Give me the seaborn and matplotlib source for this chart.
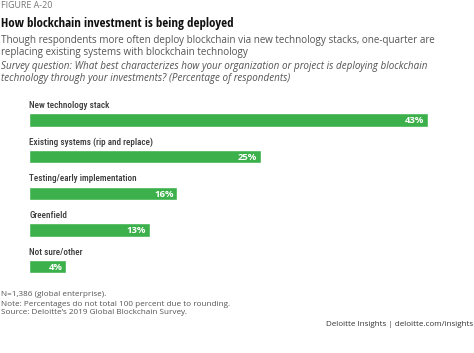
import matplotlib
matplotlib.use("Agg")
import matplotlib.pyplot as plt
import seaborn as sns
import pandas as pd
from matplotlib import font_manager
from matplotlib.font_manager import FontProperties

categories = ["New technology stack", "Existing systems (rip and replace)",
              "Testing/early implementation", "Greenfield", "Not sure/other"]
values = [43, 25, 16, 13, 4]
value_labels = ["43%", "25%", "16%", "13%", "4%"]

sns.set_theme(style="white")
plt.rcParams['font.family'] = ['Open Sans', 'DejaVu Sans']

def fp(fname_part, fallback_family="DejaVu Sans", weight="normal", style="normal"):
    for f in font_manager.fontManager.ttflist:
        if f.fname.split('/')[-1] == fname_part:
            return FontProperties(fname=f.fname)
    return FontProperties(family=fallback_family, weight=weight, style=style)

f_title = fp("OpenSans-CondBold.ttf", weight="bold")
f_label = fp("RobotoCondensed-Medium.ttf")
f_val = fp("OpenSans-Bold.ttf", weight="bold")
f_body = fp("OpenSans-Regular.ttf")
f_ital = fp("OpenSans-Italic.ttf", style="italic")

df = pd.DataFrame({"category": categories, "value": values})

fig = plt.figure(figsize=(4.74, 3.53), dpi=100)
ax = fig.add_axes([29/474, 1-285/353, 399/474, (285-101.7)/353])
sns.barplot(data=df, x="value", y="category", color="#3cb04a", width=0.363,
            saturation=1, ax=ax, orient="h")
ax.set_xlim(0, 43)
ax.set_ylim(4.5, -0.5)
ax.axis("off")

def sized(p, s):
    q = p.copy()
    q.set_size(s)
    return q

for i, (c, v, lab) in enumerate(zip(categories, values, value_labels)):
    ax.text(0.05, i - 0.40, c, ha="left", va="center", fontproperties=sized(f_label, 6.6),
            color="#3a3a3a")
    ax.text(v - 0.4, i + 0.02, lab, ha="right", va="center",
            fontproperties=sized(f_val, 6.8), color="white")

def ft(x, y, s, p, size, **kw):
    fig.text(x/474, 1-y/353, s, va="center", fontproperties=sized(p, size), **kw)

grey = "#555555"
ft(1, 6, "FIGURE A-20", f_body, 6.4, color="#777777")
ft(1, 23, "How blockchain investment is being deployed", f_title, 9.3, color="#111111")
ft(1, 40, "Though respondents more often deploy blockchain via new technology stacks, one-quarter are",
   f_body, 7.13, color=grey)
ft(1, 52, "replacing existing systems with blockchain technology", f_body, 7.13, color=grey)
ft(1, 67, "Survey question: What best characterizes how your organization or project is deploying blockchain",
   f_ital, 7.15, color=grey)
ft(1, 79, "technology through your investments? (Percentage of respondents)", f_ital, 7.15, color=grey)
ft(1, 295, "N=1,386 (global enterprise).", f_body, 5.9, color=grey)
ft(1, 304, "Note: Percentages do not total 100 percent due to rounding.", f_body, 5.9, color=grey)
ft(1, 313, "Source: Deloitte's 2019 Global Blockchain Survey.", f_body, 5.9, color=grey)
fig.text(473/474, 1-324/353, "Deloitte Insights | deloitte.com/insights", ha="right",
         va="center", fontproperties=sized(f_body, 5.75), color="#333333")

fig.savefig("out.png", dpi=100)
